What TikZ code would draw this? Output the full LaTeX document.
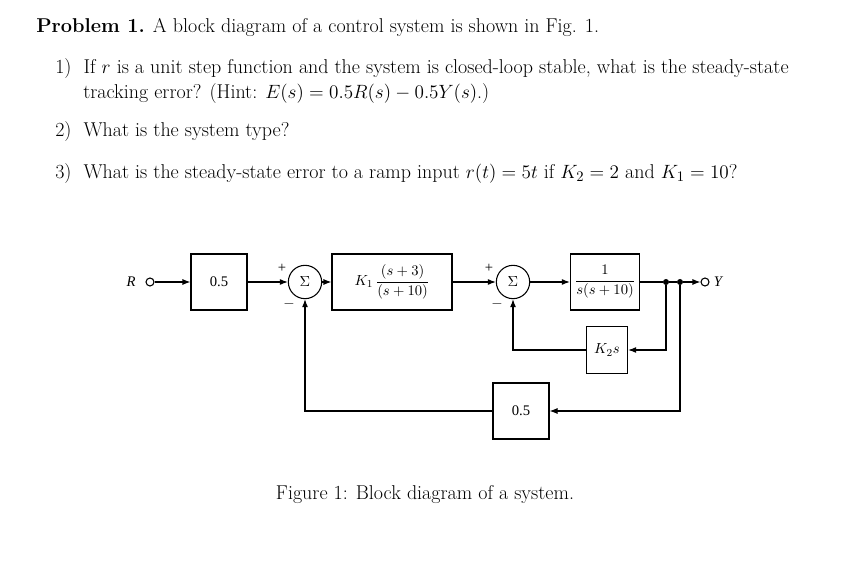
\documentclass[tikz,border=0pt]{standalone}
\usepackage{amsmath}
\usepackage{fontspec}
\usetikzlibrary{arrows.meta}
\newfontfamily\blk{Liberation Serif}
\begin{document}
\begin{tikzpicture}[x=0.75pt,y=-0.75pt,
  blk/.style={draw,thick,minimum width=42pt,minimum height=42pt,inner sep=2pt,font=\blk\fontsize{11}{13}\selectfont},
  sum/.style={draw,circle,thick,minimum size=25pt,inner sep=0pt,font=\fontsize{11}{13}\selectfont},
  sig/.style={thick,-{Latex[length=6pt,width=4.5pt]}},
  pin/.style={draw,circle,thick,minimum size=6pt,inner sep=0pt},
  dot/.style={fill,circle,minimum size=4.5pt,inner sep=0pt},
  lbl/.style={font=\blk\fontsize{11}{13}\selectfont},
  txt/.style={anchor=base west,inner sep=0pt,font=\fontsize{15}{18}\selectfont}]
\useasboundingbox (0,0) rectangle (862,580);
% problem text
\node[txt] (p0) at (36,33) {\textbf{Problem 1.} A block diagram of a control system is shown in Fig. 1.};
\node[txt] (p1) at (55,74) {1)\ \ If $r$ is a unit step function and the system is closed-loop stable, what is the steady-state};
\node[txt] (p1b) at (83,99) {tracking error? (Hint: $E(s)=0.5R(s)-0.5Y(s)$.)};
\node[txt] (p2) at (55,137) {2)\ \ What is the system type?};
\node[txt] (p3) at (55,179) {3)\ \ What is the steady-state error to a ramp input $r(t)=5t$ if $K_2=2$ and $K_1=10$?};
% diagram
\node[lbl,font=\blk\itshape\fontsize{11}{13}\selectfont] (rl) at (131,282) {R};
\node[pin] (r) at (150,282) {};
\node[blk] (g0) at (219,282) {0.5};
\node[sum] (s1) at (305,282) {$\Sigma$};
\node[blk,minimum width=90pt] (g1) at (392,282) {$K_1\,\dfrac{(s+3)}{(s+10)}$};
\node[sum] (s2) at (513,282) {$\Sigma$};
\node[blk,minimum width=52pt] (g2) at (605,282) {$\dfrac{1}{s(s+10)}$};
\node[dot] (d1) at (666,282) {};
\node[dot] (d2) at (680,282) {};
\node[pin] (y) at (705,282) {};
\node[font=\blk\itshape\fontsize{11}{13}\selectfont] (yl) at (718,282) {Y};
\node[blk,minimum width=31pt,minimum height=35pt] (h2) at (607,350) {$K_2s$};
\node[blk] (h1) at (521,411) {0.5};
\node[lbl] (pl1) at (282,268) {+};
\node[lbl] (mi1) at (289,304) {$-$};
\node[lbl] (pl2) at (489,268) {+};
\node[lbl] (mi2) at (497,304) {$-$};
\draw[sig] (r) -- (g0);
\draw[sig] (g0) -- (s1);
\draw[sig] (s1) -- (g1);
\draw[sig] (g1) -- (s2);
\draw[sig] (s2) -- (g2);
\draw[thick] (g2) -- (d1) -- (d2);
\draw[sig] (d2) -- (y);
\draw[sig] (d1) |- (h2);
\draw[sig] (h2) -| (s2);
\draw[sig] (d2) |- (h1);
\draw[sig] (h1) -| (s1);
\node[font=\fontsize{15}{18}\selectfont] (cap) at (425,495) {Figure 1: Block diagram of a system.};
\end{tikzpicture}
\end{document}
